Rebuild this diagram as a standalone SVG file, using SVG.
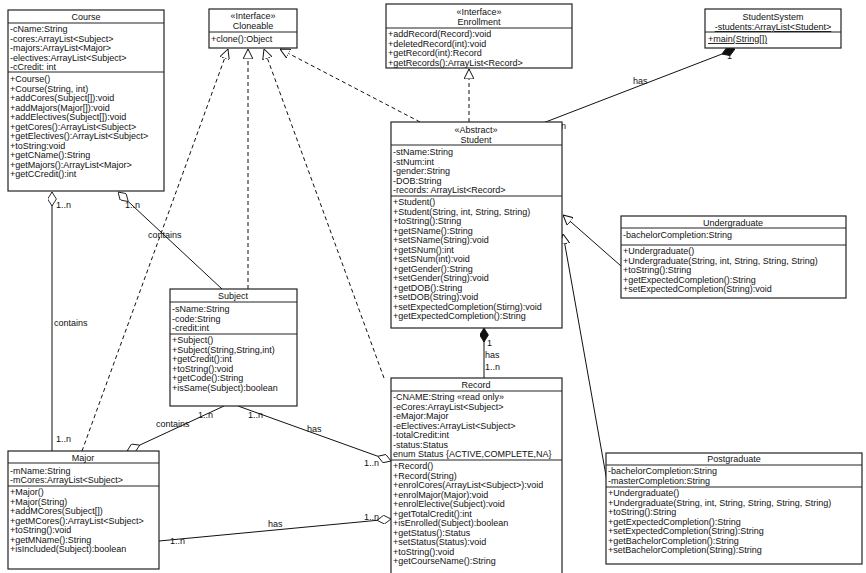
<svg xmlns="http://www.w3.org/2000/svg" width="866" height="573" viewBox="0 0 866 573">
<style>
text{font-family:"Liberation Sans",Arial,sans-serif;font-size:9px;fill:#111}
.c{text-anchor:middle}
.b{fill:#fff;stroke:#222;stroke-width:1.2}
.s{stroke:#222;stroke-width:1}
.l{fill:none;stroke:#111;stroke-width:1}
.d{fill:none;stroke:#111;stroke-width:1;stroke-dasharray:4,3}
</style>
<defs>
<marker id="tri" viewBox="0 0 10 10" refX="10" refY="5" markerWidth="10" markerHeight="10" orient="auto" markerUnits="userSpaceOnUse"><path d="M0,0 L10,5 L0,10 Z" fill="#fff" stroke="#111"/></marker>
<marker id="od" viewBox="0 0 16 10" refX="16" refY="5" markerWidth="14" markerHeight="9" orient="auto" markerUnits="userSpaceOnUse"><path d="M0,5 L8,0 L16,5 L8,10 Z" fill="#fff" stroke="#111"/></marker>
<marker id="fd" viewBox="0 0 16 10" refX="16" refY="5" markerWidth="14" markerHeight="9" orient="auto" markerUnits="userSpaceOnUse"><path d="M0,5 L8,0 L16,5 L8,10 Z" fill="#111" stroke="#111"/></marker>
</defs>
<rect width="866" height="573" fill="#fff"/>
<g id="connectors">
<path class="l" d="M543,123 L735,49" marker-end="url(#fd)"/>
<path class="d" d="M469,122 L469,69" marker-end="url(#tri)"/>
<path class="d" d="M420,122 L280,49" marker-end="url(#tri)"/>
<path class="l" d="M52,451 L52,192" marker-end="url(#od)"/>
<path class="l" d="M222,289 L118,192" marker-end="url(#od)"/>
<path class="d" d="M82,451 L228,49" marker-end="url(#tri)"/>
<path class="d" d="M248,289 L248,49" marker-end="url(#tri)"/>
<path class="d" d="M384,378 L264,49" marker-end="url(#tri)"/>
<path class="l" d="M224,406 L127,451" marker-end="url(#od)"/>
<path class="l" d="M238,406 L391,461" marker-end="url(#od)"/>
<path class="l" d="M159,541 L391,519" marker-end="url(#od)"/>
<path class="l" d="M484,378 L484,328" marker-end="url(#fd)"/>
<path class="l" d="M621,266 L563,215" marker-end="url(#tri)"/>
<path class="l" d="M608,487 L563,234" marker-end="url(#tri)"/>
<text x="633" y="84">has</text><text x="727" y="59">1</text><text x="551" y="129">0..n</text>
<text x="56" y="208">1..n</text><text x="56" y="442">1..n</text><text x="54" y="326">contains</text>
<text x="125" y="208">1..n</text><text x="148" y="238">contains</text>
<text x="198" y="418">1..n</text><text x="156" y="427">contains</text><text x="135" y="458">1..n</text>
<text x="248" y="418">1..n</text><text x="307" y="432">has</text><text x="364" y="466">1..n</text>
<text x="268" y="527">has</text><text x="170" y="544">1..n</text><text x="364" y="520">1..n</text>
<text x="487" y="346">1</text><text x="485" y="358">has</text><text x="485" y="370">1..n</text>
</g>
<g id="Course">
<rect class="b" x="8" y="10" width="156" height="181"/>
<line class="s" x1="8" y1="23" x2="164" y2="23"/><line class="s" x1="8" y1="72" x2="164" y2="72"/>
<text class="c" x="86" y="20">Course</text>
<text x="10" y="32">-cName:String</text><text x="10" y="41.5">-cores:ArrayList&lt;Subject&gt;</text><text x="10" y="51">-majors:ArrayList&lt;Major&gt;</text><text x="10" y="60.5">-electives:ArrayList&lt;Subject&gt;</text><text x="10" y="70">-cCredit: int</text>
<text x="10" y="82">+Course()</text><text x="10" y="91.5">+Course(String, int)</text><text x="10" y="101">+addCores(Subject[]):void</text><text x="10" y="110.5">+addMajors(Major[]):void</text><text x="10" y="120">+addElectives(Subject[]):void</text><text x="10" y="129.5">+getCores():ArrayList&lt;Subject&gt;</text><text x="10" y="139">+getElectives():ArrayList&lt;Subject&gt;</text><text x="10" y="148.5">+toString:void</text><text x="10" y="158">+getCName():String</text><text x="10" y="167.5">+getMajors():ArrayList&lt;Major&gt;</text><text x="10" y="177">+getCCredit():int</text>
</g>
<g id="Cloneable">
<rect class="b" x="209" y="9" width="88" height="39"/>
<line class="s" x1="209" y1="32" x2="297" y2="32"/>
<text class="c" x="253" y="19">«Interface»</text><text class="c" x="253" y="29">Cloneable</text>
<text x="211" y="42">+clone():Object</text>
</g>
<g id="Enrollment">
<rect class="b" x="386" y="4" width="186" height="64"/>
<line class="s" x1="386" y1="28" x2="572" y2="28"/>
<text class="c" x="479" y="15">«Interface»</text><text class="c" x="479" y="25">Enrollment</text>
<text x="388" y="37">+addRecord(Record):void</text><text x="388" y="46.5">+deletedRecord(int):void</text><text x="388" y="56">+getRecord(int):Record</text><text x="388" y="65.5">+getRecords():ArrayList&lt;Record&gt;</text>
</g>
<g id="StudentSystem">
<rect class="b" x="705" y="9" width="136" height="39"/>
<line class="s" x1="705" y1="32" x2="841" y2="32"/>
<text class="c" x="773" y="20">StudentSystem</text><text class="c" x="773" y="30" text-decoration="underline">-students:ArrayList&lt;Student&gt;</text>
<text x="708" y="42" text-decoration="underline">+main(String[])</text>
</g>
<g id="Student">
<rect class="b" x="391" y="122" width="171" height="206"/>
<line class="s" x1="391" y1="145" x2="562" y2="145"/><line class="s" x1="391" y1="196" x2="562" y2="196"/>
<text class="c" x="476" y="133">«Abstract»</text><text class="c" x="476" y="143">Student</text>
<text x="393" y="155">-stName:String</text><text x="393" y="164.5">-stNum:int</text><text x="393" y="174">-gender:String</text><text x="393" y="183.5">-DOB:String</text><text x="393" y="193">-records: ArrayList&lt;Record&gt;</text>
<text x="393" y="205">+Student()</text><text x="393" y="214.5">+Student(String, int, String, String)</text><text x="393" y="224">+toString():String</text><text x="393" y="233.5">+getSName():String</text><text x="393" y="243">+setSName(String):void</text><text x="393" y="252.5">+getSNum():int</text><text x="393" y="262">+setSNum(int):void</text><text x="393" y="271.5">+getGender():String</text><text x="393" y="281">+setGender(String):void</text><text x="393" y="290.5">+getDOB():String</text><text x="393" y="300">+setDOB(String):void</text><text x="393" y="309.5">+setExpectedCompletion(Stirng):void</text><text x="393" y="319">+getExpectedCompletion():String</text>
</g>
<g id="Undergraduate">
<rect class="b" x="621" y="216" width="225" height="82"/>
<line class="s" x1="621" y1="228" x2="846" y2="228"/><line class="s" x1="621" y1="245" x2="846" y2="245"/>
<text class="c" x="733" y="226">Undergraduate</text>
<text x="623" y="238">-bachelorCompletion:String</text>
<text x="623" y="254">+Undergraduate()</text><text x="623" y="263.5">+Undergraduate(String, int, String, String, String)</text><text x="623" y="273">+toString():String</text><text x="623" y="282.5">+getExpectedCompletion():String</text><text x="623" y="292">+setExpectedCompletion(String):void</text>
</g>
<g id="Subject">
<rect class="b" x="170" y="289" width="127" height="117"/>
<line class="s" x1="170" y1="302" x2="297" y2="302"/><line class="s" x1="170" y1="334" x2="297" y2="334"/>
<text class="c" x="233" y="299">Subject</text>
<text x="172" y="312">-sName:String</text><text x="172" y="321.5">-code:String</text><text x="172" y="331">-credit:int</text>
<text x="172" y="343">+Subject()</text><text x="172" y="352.5">+Subject(String,String,int)</text><text x="172" y="362">+getCredit():int</text><text x="172" y="371.5">+toString():void</text><text x="172" y="381">+getCode():String</text><text x="172" y="390.5">+isSame(Subject):boolean</text>
</g>
<g id="Major">
<rect class="b" x="8" y="451" width="151" height="118"/>
<line class="s" x1="8" y1="463" x2="159" y2="463"/><line class="s" x1="8" y1="486" x2="159" y2="486"/>
<text class="c" x="83" y="461">Major</text>
<text x="10" y="474">-mName:String</text><text x="10" y="483">-mCores:ArrayList&lt;Subject&gt;</text>
<text x="10" y="495">+Major()</text><text x="10" y="504.5">+Major(String)</text><text x="10" y="514">+addMCores(Subject[])</text><text x="10" y="523.5">+getMCores():ArrayList&lt;Subject&gt;</text><text x="10" y="533">+toString():void</text><text x="10" y="542.5">+getMName():String</text><text x="10" y="552">+isIncluded(Subject):boolean</text>
</g>
<g id="Record">
<rect class="b" x="391" y="378" width="171" height="196"/>
<line class="s" x1="391" y1="391" x2="562" y2="391"/><line class="s" x1="391" y1="460" x2="562" y2="460"/>
<text class="c" x="476" y="388">Record</text>
<text x="393" y="400">-CNAME:String «read only»</text><text x="393" y="409.5">-eCores:ArrayList&lt;Subject&gt;</text><text x="393" y="419">-eMajor:Major</text><text x="393" y="428.5">-eElectives:ArrayList&lt;Subject&gt;</text><text x="393" y="438">-totalCredit:int</text><text x="393" y="447.5">-status:Status</text><text x="393" y="457">enum Status {ACTIVE,COMPLETE,NA}</text>
<text x="393" y="469">+Record()</text><text x="393" y="478.5">+Record(String)</text><text x="393" y="488">+enrolCores(ArrayList&lt;Subject&gt;):void</text><text x="393" y="497.5">+enrolMajor(Major):void</text><text x="393" y="507">+enrolElective(Subject):void</text><text x="393" y="516.5">+getTotalCredit():int</text><text x="393" y="526">+isEnrolled(Subject):boolean</text><text x="393" y="535.5">+getStatus():Status</text><text x="393" y="545">+setStatus(Status):void</text><text x="393" y="554.5">+toString():void</text><text x="393" y="564">+getCourseName():String</text>
</g>
<g id="Postgraduate">
<rect class="b" x="606" y="453" width="256" height="111"/>
<line class="s" x1="606" y1="465" x2="862" y2="465"/><line class="s" x1="606" y1="487" x2="862" y2="487"/>
<text class="c" x="734" y="462">Postgraduate</text>
<text x="608" y="474">-bachelorCompletion:String</text><text x="608" y="484">-masterCompletion:String</text>
<text x="608" y="496">+Undergraduate()</text><text x="608" y="505.5">+Undergraduate(String, int, String, String, String, String)</text><text x="608" y="515">+toString():String</text><text x="608" y="524.5">+getExpectedCompletion():String</text><text x="608" y="534">+setExpectedCompletion(String):String</text><text x="608" y="543.5">+getBachelorCompletion():String</text><text x="608" y="553">+setBachelorCompletion(String):String</text>
</g>
</svg>
